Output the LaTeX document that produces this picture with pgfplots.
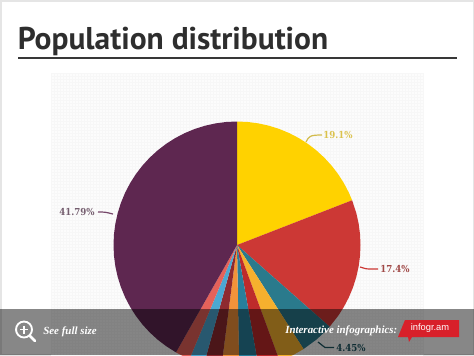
\documentclass[border=0pt]{standalone}
\usepackage{pgfplots}
\pgfplotsset{compat=1.18}
\usepgfplotslibrary{polar}
\usepackage{fontspec}
\setmainfont{Liberation Serif}
\newfontfamily\titlefont{PT Sans}
\newfontfamily\sansf{Liberation Sans}
\newfontfamily\labf{DejaVu Serif Condensed}
\definecolor{cyellow}{HTML}{FFD200}
\definecolor{cred}{HTML}{CC3835}
\definecolor{cteal}{HTML}{2A7A8C}
\definecolor{camber}{HTML}{F5B02E}
\definecolor{ccrim}{HTML}{BE2B2B}
\definecolor{cteal2}{HTML}{287F9B}
\definecolor{corange}{HTML}{F2933A}
\definecolor{cdark}{HTML}{8E2A30}
\definecolor{cblue}{HTML}{4CA8D2}
\definecolor{csalmon}{HTML}{E5625A}
\definecolor{cpurple}{HTML}{5E2750}
\begin{document}
\begin{tikzpicture}[x=0.75pt,y=-0.75pt]
\useasboundingbox (0,0) rectangle (474,355);
% page
\fill[white] (0,0) rectangle (474,355);
\draw[black!10,line width=2.25pt] (0,0) rectangle (474,355);
% chart background
\fill[black!1] (51,73) rectangle (423,355);
\foreach \g in {51,54,...,423} \draw[black!3,line width=0.25pt] (\g,73) -- (\g,355);
\foreach \g in {73,76,...,355} \draw[black!3,line width=0.25pt] (51,\g) -- (423,\g);
% title
\node[anchor=base west,inner sep=0pt,text=black!82,font=\titlefont\bfseries\fontsize{23.6}{26}\selectfont] at (17.5,49) {Population distribution};
\draw[black!78,line width=1.1pt] (18,58) -- (457,58);
% pie
\begin{axis}[at={(0,0)},anchor=north west,scale only axis,width=355.5pt,height=266.25pt,
  xmin=-237,xmax=237,ymin=-110,ymax=245,hide axis,clip=true]
\addplot[fill=cyellow,draw=none,data cs=polar] coordinates {(0,0)(90,123.5)(85,123.5)(80,123.5)(75,123.5)(70,123.5)(65,123.5)(60,123.5)(55,123.5)(50,123.5)(45,123.5)(40,123.5)(35,123.5)(30,123.5)(25,123.5)(21.24,123.5)} --cycle;
\addplot[fill=cred,draw=none,data cs=polar] coordinates {(0,0)(21.24,123.5)(15,123.5)(10,123.5)(5,123.5)(0,123.5)(-5,123.5)(-10,123.5)(-15,123.5)(-20,123.5)(-25,123.5)(-30,123.5)(-35,123.5)(-41.4,123.5)} --cycle;
\addplot[fill=cteal,draw=none,data cs=polar] coordinates {(0,0)(-41.4,123.5)(-45,123.5)(-50,123.5)(-57.4,123.5)} --cycle;
\addplot[fill=camber,draw=none,data cs=polar] coordinates {(0,0)(-57.4,123.5)(-63,123.5)(-69.8,123.5)} --cycle;
\addplot[fill=ccrim,draw=none,data cs=polar] coordinates {(0,0)(-69.8,123.5)(-75,123.5)(-80,123.5)} --cycle;
\addplot[fill=cteal2,draw=none,data cs=polar] coordinates {(0,0)(-80,123.5)(-85,123.5)(-89,123.5)} --cycle;
\addplot[fill=corange,draw=none,data cs=polar] coordinates {(0,0)(-89,123.5)(-93,123.5)(-97.3,123.5)} --cycle;
\addplot[fill=cdark,draw=none,data cs=polar] coordinates {(0,0)(-97.3,123.5)(-101,123.5)(-105.5,123.5)} --cycle;
\addplot[fill=cblue,draw=none,data cs=polar] coordinates {(0,0)(-105.5,123.5)(-109,123.5)(-112.6,123.5)} --cycle;
\addplot[fill=csalmon,draw=none,data cs=polar] coordinates {(0,0)(-112.6,123.5)(-116,123.5)(-119.6,123.5)} --cycle;
\addplot[fill=cpurple,draw=none,data cs=polar] coordinates {(0,0)(-119.6,123.5)(-125,123.5)(-130,123.5)(-135,123.5)(-140,123.5)(-145,123.5)(-150,123.5)(-155,123.5)(-160,123.5)(-165,123.5)(-170,123.5)(-175,123.5)(-180,123.5)(-185,123.5)(-190,123.5)(-195,123.5)(-200,123.5)(-205,123.5)(-210,123.5)(-215,123.5)(-220,123.5)(-225,123.5)(-230,123.5)(-235,123.5)(-240,123.5)(-245,123.5)(-250,123.5)(-255,123.5)(-260,123.5)(-265,123.5)(-270,123.5)} --cycle;
\end{axis}
% leaders and labels
\draw[cyellow!75!black!70!white,line width=0.9pt] (306,142) .. controls (309,136) and (310,135) .. (322,135);
\node[anchor=base west,inner sep=0pt,text=cyellow!80!black!70!white,font=\labf\bfseries\fontsize{7.2}{10}\selectfont] at (323,138.5) {19.1\%};
\draw[cred,line width=0.9pt] (360,267) .. controls (365,269) .. (378,269);
\node[anchor=base west,inner sep=0pt,text=cred!70!black!85!white,font=\labf\bfseries\fontsize{7.2}{10}\selectfont] at (380,272.5) {17.4\%};
\draw[cpurple!85,line width=0.9pt] (98,212) .. controls (105,212) .. (113,214);
\node[anchor=base west,inner sep=0pt,text=black!40!cpurple!70!white,font=\labf\bfseries\fontsize{7.2}{10}\selectfont] at (59,215.5) {41.79\%};
\draw[cteal!70!black,line width=0.9pt] (318,342) -- (325,347.5) -- (334,347.5);
\node[anchor=base west,inner sep=0pt,text=cteal!70!black,font=\labf\bfseries\fontsize{7.2}{10}\selectfont] at (336,351.5) {4.45\%};
% band
\fill[black,opacity=0.47] (0,309) rectangle (474,355);
% icon
\draw[white,line width=1.4pt] (24,329.5) circle (8);
\draw[white,line width=2pt,line cap=round] (30,336) -- (35,341);
\draw[white,line width=1.2pt] (20,329.5) -- (28,329.5) (24,325.5) -- (24,333.5);
\node[anchor=base west,inner sep=0pt,text=white,font=\bfseries\itshape\fontsize{8.2}{10}\selectfont] at (43,334.5) {See full size};
\node[anchor=base west,inner sep=0pt,text=white,font=\bfseries\itshape\fontsize{8.2}{10}\selectfont] at (285,333.5) {Interactive infographics:};
\fill[fill={rgb,255:red,216;green,32;blue,42}] (405,320) -- (459,320) -- (459,337) -- (412,337) -- (409,342) -- (408,337) -- (398,337) -- cycle;
\node[inner sep=0pt,text=white,font=\sansf\fontsize{7}{9}\selectfont] at (430,328.5) {infogr.am};
\end{tikzpicture}
\end{document}
